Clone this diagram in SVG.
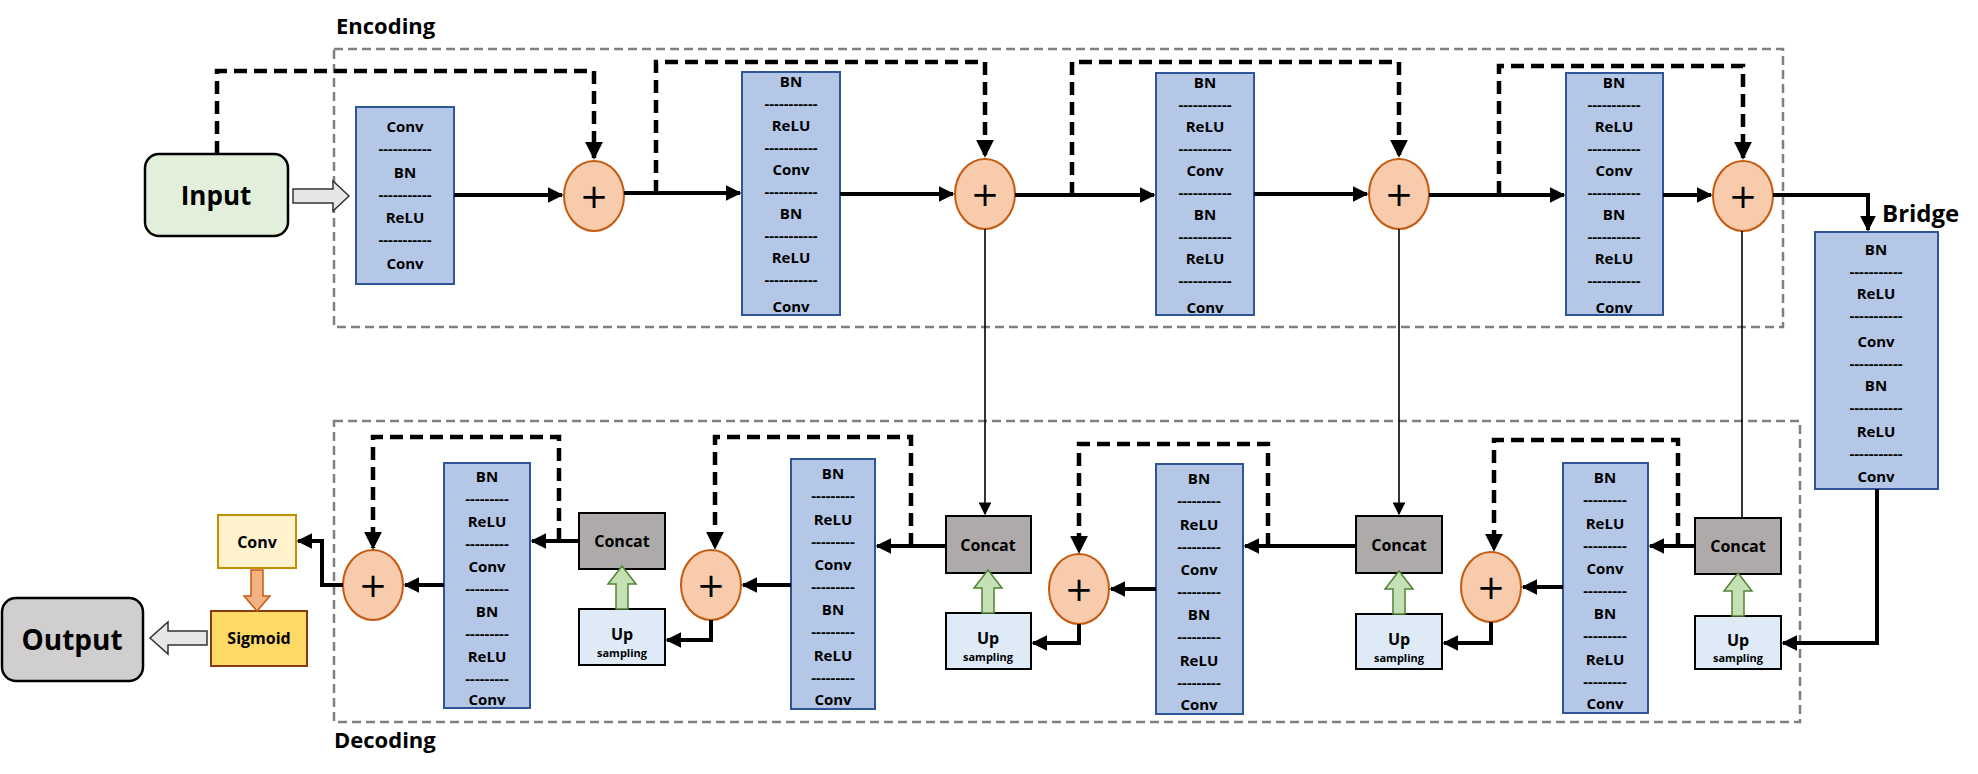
<svg xmlns="http://www.w3.org/2000/svg" width="1978" height="774" viewBox="0 0 1978 774">
<defs>
<marker id="ah" viewBox="0 0 10 10" refX="9" refY="5" markerWidth="4" markerHeight="4" orient="auto" markerUnits="strokeWidth"><path d="M0,0 L10,5 L0,10 z" fill="#000"/></marker>
<marker id="ahs" viewBox="0 0 10 10" refX="9" refY="5" markerWidth="8" markerHeight="8" orient="auto" markerUnits="strokeWidth"><path d="M0,0 L10,5 L0,10 z" fill="#000"/></marker>
<style>
text{font-family:"Open Sans","Liberation Sans",sans-serif;font-weight:bold;text-anchor:middle;fill:#000}
.blk{fill:#b4c7e7;stroke:#2f5597;stroke-width:2}
.bt{font-size:15px}
.plus{fill:#f8cbad;stroke:#c55a11;stroke-width:2}
.pt{font-size:34px;font-weight:normal;font-family:"DejaVu Sans",sans-serif}
.cat{fill:#aeaaaa;stroke:#000;stroke-width:2}
.up{fill:#deebf7;stroke:#000;stroke-width:2}
.frame{fill:none;stroke:#7f7f7f;stroke-width:2.5;stroke-dasharray:9,5}
.s{fill:none;stroke:#000;stroke-width:4;marker-end:url(#ah)}
.d{fill:none;stroke:#000;stroke-width:4.5;stroke-dasharray:13,7;marker-end:url(#ah)}
.t{fill:none;stroke:#000;stroke-width:1.6;marker-end:url(#ahs)}
.lbl{font-size:22px;text-anchor:start}
</style>
</defs>
<rect class="frame" x="334" y="49" width="1449" height="278"/>
<rect class="frame" x="334" y="421" width="1466" height="301"/>
<text class="lbl" x="336" y="34">Encoding</text>
<text class="lbl" x="334" y="748">Decoding</text>
<text class="lbl" x="1882" y="222" style="font-size:24px">Bridge</text>

<g id="input"><rect x="145" y="154" width="143" height="82" rx="14" fill="#e2efda" stroke="#000" stroke-width="2.5"/><text x="216" y="205" style="font-size:26px">Input</text></g>
<g id="output"><rect x="2" y="598" width="141" height="83" rx="14" fill="#d0cece" stroke="#000" stroke-width="2.5"/><text x="72" y="650" style="font-size:28px">Output</text></g>
<g id="conv_out"><rect x="218" y="515" width="78" height="53" fill="#fff2cc" stroke="#bf9000" stroke-width="2"/><text x="257" y="548" style="font-size:16px">Conv</text></g>
<g id="sigmoid"><rect x="211" y="611" width="96" height="55" fill="#ffd966" stroke="#843c0c" stroke-width="2"/><text x="259" y="644" style="font-size:16px">Sigmoid</text></g>

<g id="enc1"><rect class="blk" x="356" y="107" width="98" height="177"/>
<text class="bt" x="405" y="132">Conv</text>
<text class="bt" x="405" y="154">-----------</text>
<text class="bt" x="405" y="178">BN</text>
<text class="bt" x="405" y="200">-----------</text>
<text class="bt" x="405" y="223">ReLU</text>
<text class="bt" x="405" y="245">-----------</text>
<text class="bt" x="405" y="269">Conv</text></g>

<g id="enc2"><rect class="blk" x="742" y="72" width="98" height="243"/></g>
<g id="enc3"><rect class="blk" x="1156" y="73" width="98" height="242"/></g>
<g id="enc4"><rect class="blk" x="1566" y="73" width="97" height="242"/></g>
<g id="bridge"><rect class="blk" x="1815" y="232" width="123" height="257"/></g>
<g id="dec1"><rect class="blk" x="444" y="463" width="86" height="245"/></g>
<g id="dec2"><rect class="blk" x="791" y="459" width="84" height="250"/></g>
<g id="dec3"><rect class="blk" x="1156" y="464" width="87" height="250"/></g>
<g id="dec4"><rect class="blk" x="1563" y="463" width="85" height="250"/></g>

<g id="blocktexts" class="bt">
<text class="bt" x="791" y="87">BN</text><text class="bt" x="791" y="109">-----------</text><text class="bt" x="791" y="131">ReLU</text><text class="bt" x="791" y="153">-----------</text><text class="bt" x="791" y="175">Conv</text><text class="bt" x="791" y="197">-----------</text><text class="bt" x="791" y="219">BN</text><text class="bt" x="791" y="241">-----------</text><text class="bt" x="791" y="263">ReLU</text><text class="bt" x="791" y="285">-----------</text><text class="bt" x="791" y="312">Conv</text>
<text class="bt" x="1205" y="88">BN</text><text class="bt" x="1205" y="110">-----------</text><text class="bt" x="1205" y="132">ReLU</text><text class="bt" x="1205" y="154">-----------</text><text class="bt" x="1205" y="176">Conv</text><text class="bt" x="1205" y="198">-----------</text><text class="bt" x="1205" y="220">BN</text><text class="bt" x="1205" y="242">-----------</text><text class="bt" x="1205" y="264">ReLU</text><text class="bt" x="1205" y="286">-----------</text><text class="bt" x="1205" y="313">Conv</text>
<text class="bt" x="1614" y="88">BN</text><text class="bt" x="1614" y="110">-----------</text><text class="bt" x="1614" y="132">ReLU</text><text class="bt" x="1614" y="154">-----------</text><text class="bt" x="1614" y="176">Conv</text><text class="bt" x="1614" y="198">-----------</text><text class="bt" x="1614" y="220">BN</text><text class="bt" x="1614" y="242">-----------</text><text class="bt" x="1614" y="264">ReLU</text><text class="bt" x="1614" y="286">-----------</text><text class="bt" x="1614" y="313">Conv</text>
<text class="bt" x="1876" y="255">BN</text><text class="bt" x="1876" y="277">-----------</text><text class="bt" x="1876" y="299">ReLU</text><text class="bt" x="1876" y="321">-----------</text><text class="bt" x="1876" y="347">Conv</text><text class="bt" x="1876" y="369">-----------</text><text class="bt" x="1876" y="391">BN</text><text class="bt" x="1876" y="413">-----------</text><text class="bt" x="1876" y="437">ReLU</text><text class="bt" x="1876" y="459">-----------</text><text class="bt" x="1876" y="482">Conv</text>
<text class="bt" x="487" y="482">BN</text><text class="bt" x="487" y="504">---------</text><text class="bt" x="487" y="527">ReLU</text><text class="bt" x="487" y="549">---------</text><text class="bt" x="487" y="572">Conv</text><text class="bt" x="487" y="594">---------</text><text class="bt" x="487" y="617">BN</text><text class="bt" x="487" y="639">---------</text><text class="bt" x="487" y="662">ReLU</text><text class="bt" x="487" y="684">---------</text><text class="bt" x="487" y="705">Conv</text>
<text class="bt" x="833" y="479">BN</text><text class="bt" x="833" y="501">---------</text><text class="bt" x="833" y="525">ReLU</text><text class="bt" x="833" y="547">---------</text><text class="bt" x="833" y="570">Conv</text><text class="bt" x="833" y="592">---------</text><text class="bt" x="833" y="615">BN</text><text class="bt" x="833" y="637">---------</text><text class="bt" x="833" y="661">ReLU</text><text class="bt" x="833" y="683">---------</text><text class="bt" x="833" y="705">Conv</text>
<text class="bt" x="1199" y="484">BN</text><text class="bt" x="1199" y="506">---------</text><text class="bt" x="1199" y="530">ReLU</text><text class="bt" x="1199" y="552">---------</text><text class="bt" x="1199" y="575">Conv</text><text class="bt" x="1199" y="597">---------</text><text class="bt" x="1199" y="620">BN</text><text class="bt" x="1199" y="642">---------</text><text class="bt" x="1199" y="666">ReLU</text><text class="bt" x="1199" y="688">---------</text><text class="bt" x="1199" y="710">Conv</text>
<text class="bt" x="1605" y="483">BN</text><text class="bt" x="1605" y="505">---------</text><text class="bt" x="1605" y="529">ReLU</text><text class="bt" x="1605" y="551">---------</text><text class="bt" x="1605" y="574">Conv</text><text class="bt" x="1605" y="596">---------</text><text class="bt" x="1605" y="619">BN</text><text class="bt" x="1605" y="641">---------</text><text class="bt" x="1605" y="665">ReLU</text><text class="bt" x="1605" y="687">---------</text><text class="bt" x="1605" y="709">Conv</text>
</g>

<g id="plus_e1"><ellipse class="plus" cx="594" cy="196" rx="30" ry="35"/><text class="pt" x="594" y="208">+</text></g>
<g id="plus_e2"><ellipse class="plus" cx="985" cy="194" rx="30" ry="35"/><text class="pt" x="985" y="206">+</text></g>
<g id="plus_e3"><ellipse class="plus" cx="1399" cy="194" rx="30" ry="35"/><text class="pt" x="1399" y="206">+</text></g>
<g id="plus_e4"><ellipse class="plus" cx="1743" cy="196" rx="30" ry="35"/><text class="pt" x="1743" y="208">+</text></g>
<g id="plus_d1"><ellipse class="plus" cx="373" cy="585" rx="30" ry="35"/><text class="pt" x="373" y="597">+</text></g>
<g id="plus_d2"><ellipse class="plus" cx="711" cy="585" rx="30" ry="35"/><text class="pt" x="711" y="597">+</text></g>
<g id="plus_d3"><ellipse class="plus" cx="1079" cy="589" rx="30" ry="35"/><text class="pt" x="1079" y="601">+</text></g>
<g id="plus_d4"><ellipse class="plus" cx="1491" cy="587" rx="30" ry="35"/><text class="pt" x="1491" y="599">+</text></g>

<g id="concat1"><rect class="cat" x="579" y="513" width="86" height="56"/><text x="622" y="547" style="font-size:16px">Concat</text></g>
<g id="concat2"><rect class="cat" x="946" y="516" width="85" height="57"/><text x="988" y="551" style="font-size:16px">Concat</text></g>
<g id="concat3"><rect class="cat" x="1356" y="516" width="86" height="57"/><text x="1399" y="551" style="font-size:16px">Concat</text></g>
<g id="concat4"><rect class="cat" x="1695" y="518" width="86" height="56"/><text x="1738" y="552" style="font-size:16px">Concat</text></g>
<g id="up1"><rect class="up" x="579" y="609" width="86" height="56"/><text x="622" y="640" style="font-size:16px">Up</text><text x="622" y="657" style="font-size:11px">sampling</text></g>
<g id="up2"><rect class="up" x="946" y="613" width="85" height="56"/><text x="988" y="644" style="font-size:16px">Up</text><text x="988" y="661" style="font-size:11px">sampling</text></g>
<g id="up3"><rect class="up" x="1356" y="614" width="86" height="55"/><text x="1399" y="645" style="font-size:16px">Up</text><text x="1399" y="662" style="font-size:11px">sampling</text></g>
<g id="up4"><rect class="up" x="1695" y="616" width="86" height="53"/><text x="1738" y="646" style="font-size:16px">Up</text><text x="1738" y="662" style="font-size:11px">sampling</text></g>

<g id="connectors">
<polygon points="293,189 333,189 333,181 349,196 333,211 333,203 293,203" fill="#e7e6e6" stroke="#333" stroke-width="1.5"/>
<polygon points="207,631 168,631 168,622 150,638 168,654 168,645 207,645" fill="#e7e6e6" stroke="#333" stroke-width="1.5"/>
<polygon points="251,570 263,570 263,596 270,596 257,611 244,596 251,596" fill="#f4b183" stroke="#c55a11" stroke-width="1.5"/>
<polygon points="616,609 628,609 628,584 636,584 622,566 608,584 616,584" fill="#c5e0b4" stroke="#538135" stroke-width="1.5"/>
<polygon points="982,613 994,613 994,588 1002,588 988,570 974,588 982,588" fill="#c5e0b4" stroke="#538135" stroke-width="1.5"/>
<polygon points="1393,614 1405,614 1405,589 1413,589 1399,571 1385,589 1393,589" fill="#c5e0b4" stroke="#538135" stroke-width="1.5"/>
<polygon points="1732,616 1744,616 1744,591 1752,591 1738,573 1724,591 1732,591" fill="#c5e0b4" stroke="#538135" stroke-width="1.5"/>

<path class="d" d="M217,154 V71 H594 V158"/>
<path class="d" d="M656,193 V62 H985 V156"/>
<path class="d" d="M1072,195 V62 H1399 V156"/>
<path class="d" d="M1499,194 V66 H1743 V158"/>
<path class="s" d="M454,195 H562"/>
<path class="s" d="M624,193 H740"/>
<path class="s" d="M840,194 H953"/>
<path class="s" d="M1015,195 H1154"/>
<path class="s" d="M1254,194 H1367"/>
<path class="s" d="M1429,195 H1564"/>
<path class="s" d="M1663,195 H1711"/>
<path class="s" d="M1773,195 H1868 V230"/>

<path class="t" d="M985,229 V514"/>
<path class="t" d="M1399,229 V514"/>
<path fill="none" stroke="#000" stroke-width="1.6" d="M1742,231 V518"/>

<path class="s" d="M1877,489 V643 H1783"/>
<path class="s" d="M1695,546 H1650"/>
<path class="d" d="M1678,546 V440 H1494 V550"/>
<path class="s" d="M1563,587 H1523"/>
<path class="s" d="M1491,622 V643 H1444"/>
<path class="s" d="M1356,546 H1245"/>
<path class="d" d="M1268,546 V444 H1079 V552"/>
<path class="s" d="M1156,589 H1111"/>
<path class="s" d="M1079,624 V643 H1033"/>
<path class="s" d="M946,546 H877"/>
<path class="d" d="M911,546 V437 H715 V548"/>
<path class="s" d="M791,585 H743"/>
<path class="s" d="M711,620 V640 H667"/>
<path class="s" d="M579,541 H532"/>
<path class="d" d="M559,541 V437 H373 V548"/>
<path class="s" d="M444,585 H405"/>
<path class="s" d="M343,585 H322 V541 H298"/>
</g>
</svg>
